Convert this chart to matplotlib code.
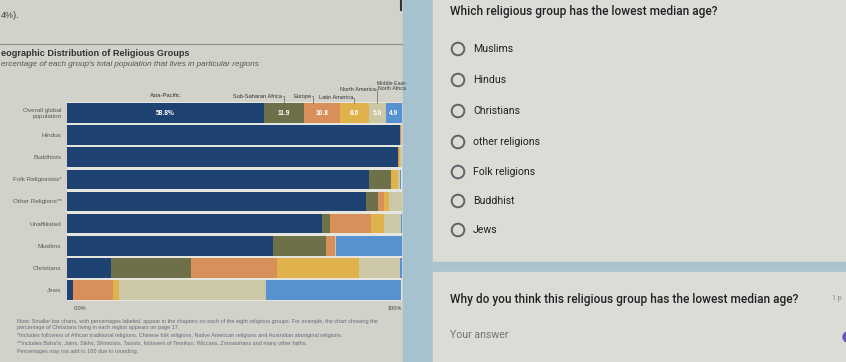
import matplotlib.pyplot as plt
from matplotlib.patches import Rectangle, Circle
import numpy as np

# region shares (%) for each group
groups = ['Overall global\npopulation', 'Hindus', 'Buddhists', 'Folk Religionists*',
          'Other Religions**', 'Unaffiliated', 'Muslims', 'Christians', 'Jews']
regions = ['Asia-Pacific', 'Sub-Saharan Africa', 'Europe', 'Latin America',
           'North America', 'Middle East-\nNorth Africa']
asia_pacific = [58.8, 99.3, 98.7, 90.0, 89.4, 76.2, 61.4, 13.1, 1.7]
sub_saharan = [11.9, 0.2, 0.1, 6.6, 3.3, 2.4, 15.8, 23.8, 0.1]
europe = [10.8, 0.2, 0.3, 0.2, 1.8, 12.0, 2.9, 25.8, 11.8]
latin_america = [8.6, 0.0, 0.2, 2.1, 1.5, 4.0, 0.0, 24.4, 1.8]
north_america = [5.0, 0.2, 0.8, 0.6, 4.0, 5.2, 0.2, 12.3, 44.0]
mena = [4.9, 0.1, 0.0, 0.3, 0.0, 0.2, 19.6, 0.6, 40.3]
region_colors = ['#1e4373', '#6d7048', '#d88f59', '#dfb24c', '#cbc7a7', '#5592cf']

question1 = 'Which religious group has the lowest median age?'
options = ['Muslims', 'Hindus', 'Christians', 'other religions', 'Folk religions',
           'Buddhist', 'Jews']
question2 = 'Why do you think this religious group has the lowest median age?'

footnotes = [
    'Note: Smaller bar charts, with percentages labeled, appear in the chapters on each of the eight religious groups. For example, the chart showing the',
    'percentage of Christians living in each region appears on page 17.',
    '*Includes followers of African traditional religions, Chinese folk religions, Native American religions and Australian aboriginal religions.',
    '**Includes Baha\'is, Jains, Sikhs, Shintoists, Taoists, followers of Tenrikyo, Wiccans, Zoroastrians and many other faiths.',
    'Percentages may not add to 100 due to rounding.',
]

W, H = 846, 362
fig = plt.figure(figsize=(W / 100, H / 100), dpi=100)
fig.patch.set_facecolor('#d2d2cb')

# page background drawn in pixel coordinates
bg = fig.add_axes([0, 0, 1, 1], zorder=0)
bg.set_xlim(0, W)
bg.set_ylim(H, 0)
bg.axis('off')
bg.add_patch(Rectangle((403, 0), 30, H, color='#a6c2cf'))
bg.add_patch(Rectangle((433, 0), W - 433, 262, color='#dcdcd7'))
bg.add_patch(Rectangle((433, 262), W - 433, 10, color='#a9c4cd'))
bg.add_patch(Rectangle((433, 272), W - 433, 90, color='#dcdcd7'))
bg.plot([0, 402], [44, 44], color='#8c8c88', lw=0.8)
bg.plot([401, 401], [0, 10], color='#333333', lw=1.5)

chart_font = 'Liberation Sans'
# the screenshot crops these at its left edge; only the visible part is written
bg.text(1, 15, '4%).', fontsize=6.5, color='#444444', va='center', family=chart_font)
bg.text(1, 53, 'eographic Distribution of Religious Groups', fontsize=6.6,
        fontweight='bold', color='#333333', va='center', family=chart_font)
bg.text(1, 65, 'ercentage of each group\'s total population that lives in particular regions',
        fontsize=5.9, style='italic', color='#555555', va='center', family=chart_font)
for i, line in enumerate(footnotes):
    y = [322, 327, 336, 344, 351][i]
    bg.text(17, y, line, fontsize=4.0, color='#6a6a78', va='center', family=chart_font)
bg.text(80, 308, '0.0%', fontsize=4, color='#444444', ha='center', va='center', family=chart_font)
bg.text(402, 308, '100%', fontsize=4, color='#444444', ha='right', va='center', family=chart_font)

# stacked horizontal bars
ax = fig.add_axes([67 / W, 0.1677, 335 / W, 0.5514], zorder=1)
ax.set_facecolor('#e6e6e1')
y = np.arange(len(groups))
series = [asia_pacific, sub_saharan, europe, latin_america, north_america, mena]
left = np.zeros(len(groups))
for vals, col in zip(series, region_colors):
    vals = np.array(vals)
    ax.barh(y, vals, left=left, height=0.88, color=col, edgecolor='none')
    left += vals
ax.set_xlim(0, 100)
ax.set_ylim(len(groups) - 0.5, -0.5)
ax.set_xticks([])
ax.set_yticks(y)
ax.set_yticklabels(groups, fontsize=4.6, color='#5a5a5a', family=chart_font)
ax.tick_params(axis='y', length=0, pad=4)
for s in ax.spines.values():
    s.set_visible(False)

# value labels inside the overall bar and region names above it
overall = [v[0] for v in series]
starts = np.cumsum([0] + overall[:-1])
label_y = [-0.78, -0.74, -0.74, -0.68, -1.05, -1.2]
bracket_shift = [0, 0, -2.6, 0, 0, 0]
for i, (st, v) in enumerate(zip(starts, overall)):
    cx = st + v / 2
    txt = f'{v:.1f}%' if i == 0 else f'{v:.1f}'
    ax.text(cx, 0.02, txt, color='white', fontsize=4.8, fontweight='bold',
            ha='center', va='center', family=chart_font)
    if i == 0:
        ax.text(cx, label_y[i], regions[i], fontsize=4.2, color='#333333',
                ha='center', va='center', family=chart_font, clip_on=False)
    elif i < 5:
        bx = cx + bracket_shift[i]
        ax.text(bx - 0.5, label_y[i], regions[i], fontsize=4.1, color='#333333',
                ha='right', va='center', family=chart_font, clip_on=False)
        ax.plot([bx - 0.4, bx, bx], [label_y[i], label_y[i], -0.46],
                color='#444444', lw=0.4, clip_on=False)
    else:
        ax.text(cx - 0.5, label_y[i], regions[i], fontsize=3.8, color='#333333',
                ha='center', va='center', family=chart_font, clip_on=False,
                linespacing=0.9)

# form side
form_font = 'Roboto'
bg.text(450, 11, question1, fontsize=8.6, fontweight='medium', color='#202124',
        va='center', family=form_font)
opt_y = [49, 80, 111, 142, 172, 201, 230]
for lab, oy in zip(options, opt_y):
    bg.add_patch(Circle((458, oy), 6.3, fill=False, ec='#5f6368', lw=1.4))
    bg.text(473, oy, lab, fontsize=7.6, color='#202124', va='center', family=form_font)
bg.text(450, 299, question2, fontsize=8.6, fontweight='medium', color='#202124',
        va='center', family=form_font)
bg.text(832, 299, '1 p', fontsize=5, color='#8a8a8a', va='center', family=form_font)
bg.text(450, 335, 'Your answer', fontsize=7.6, color='#70757a', va='center', family=form_font)
bg.add_patch(Circle((848, 337), 5, color='#6a55b5'))

fig.savefig('out.png', dpi=100, facecolor=fig.get_facecolor())
